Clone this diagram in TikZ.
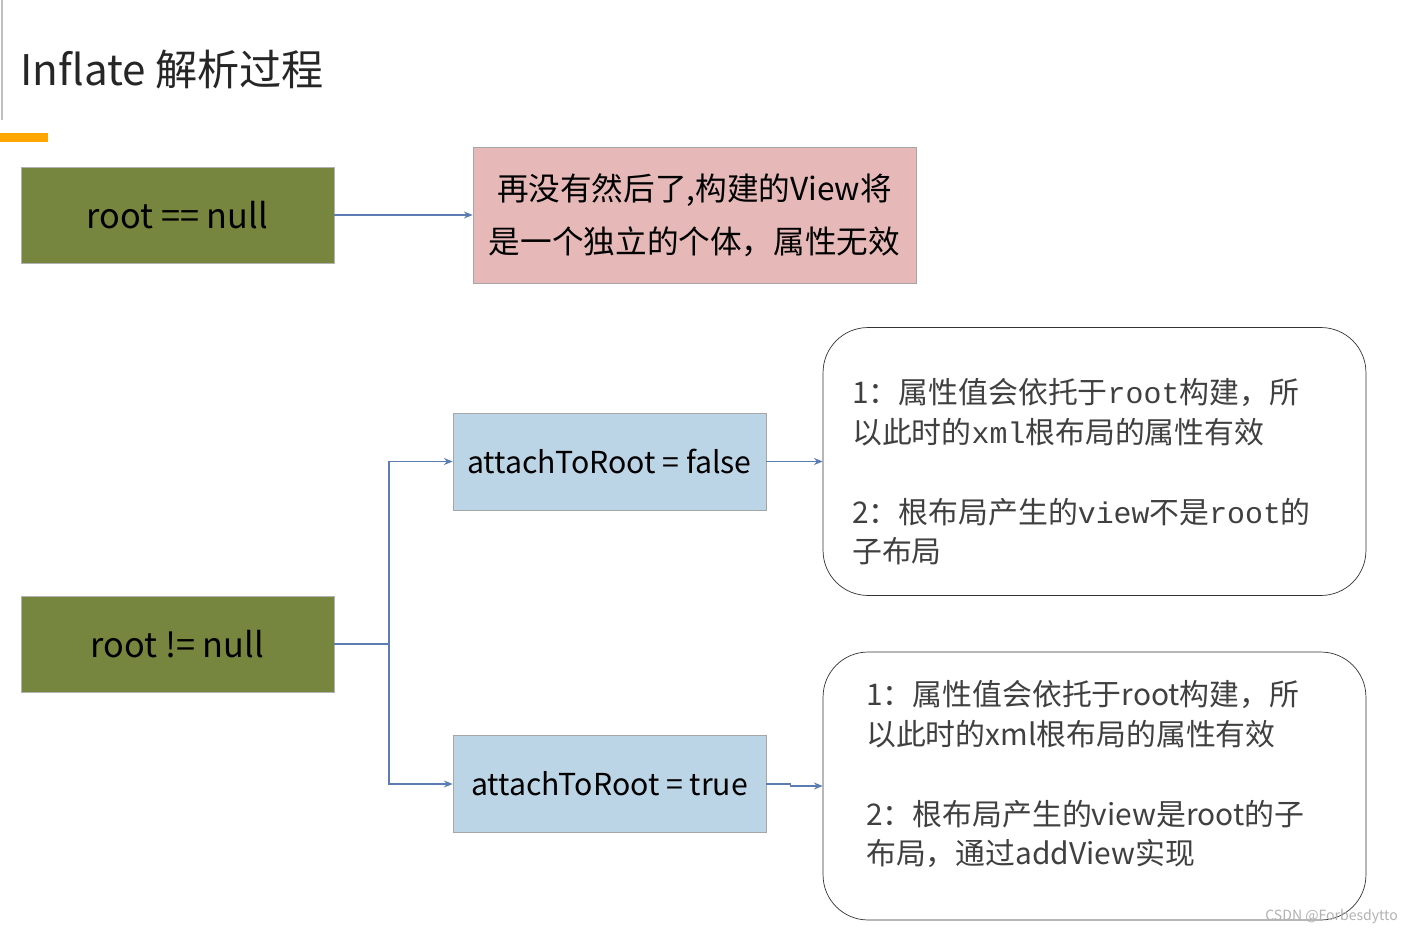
\documentclass[tikz,border=0pt]{standalone}
\usepackage{fontspec}
\usetikzlibrary{arrows.meta}
\setmainfont{Noto Sans CJK SC}
\newfontfamily\monof{Liberation Mono}
\definecolor{arr}{HTML}{5B7DB1}
\begin{document}
\begin{tikzpicture}[x=0.02cm,y=-0.02cm,
  gbox/.style={draw=black!30,minimum width=6.26cm,minimum height=1.92cm,font=\fontsize{19.5}{22}\selectfont,inner sep=0},
  bbox/.style={draw=gray!70,minimum width=6.26cm,minimum height=1.94cm,font=\fontsize{17.2}{20}\selectfont,inner sep=0},
  rbox/.style={draw=black!80,rounded corners=0.9cm,minimum width=10.86cm,minimum height=5.36cm},
  conn/.style={draw=arr,-{Stealth[length=5pt,width=4pt]},line width=0.6pt}]
\useasboundingbox (0,0) rectangle (1417,936);
\fill[white] (0,0) rectangle (1417,936);
\draw[gray!50,line width=1pt] (2,0) -- (2,120);
\fill[orange!70!yellow] (0,133) rectangle (48,142);
\node[anchor=west,font=\fontsize{24}{28}\selectfont,text=black!85] (title) at (14,70) {Inflate 解析过程};
\definecolor{olv}{HTML}{76863E}
\definecolor{pnk}{HTML}{E6B9B8}
\definecolor{lbl}{HTML}{BCD5E6}
\node[gbox,fill=olv] (r1) at (177.5,215) {root == null};
\node[draw=gray!70,fill=pnk,minimum width=8.86cm,minimum height=2.72cm,align=center,font=\fontsize{18}{30}\selectfont,inner sep=0] (p) at (694.5,215) {再没有然后了,构建的View将\\是一个独立的个体，属性无效};
\node[gbox,fill=olv] (r2) at (177.5,644) {root != null};
\node[bbox,fill=lbl] (b1) at (609.5,461.5) {attachToRoot = false};
\node[bbox,fill=lbl] (b2) at (609.5,784) {attachToRoot = true};
\node[rbox] (c1) at (1094.5,461.5) {};
\node[rbox] (c2) at (1094.5,786) {};
\node[anchor=north west,align=left,font=\fontsize{17}{22.7}\selectfont,text=black!75] at (846,372) {1：属性值会依托于{\monof root}构建，所\\以此时的{\monof xml}根布局的属性有效\\[0.8cm]2：根布局产生的{\monof view}不是{\monof root}的\\子布局};
\node[anchor=north west,align=left,font=\fontsize{17}{22.7}\selectfont,text=black!75] at (860,674) {1：属性值会依托于root构建，所\\以此时的xml根布局的属性有效\\[0.8cm]2：根布局产生的view是root的子\\布局，通过addView实现};
\coordinate (j) at (389,644);
\draw[conn] (r1) -- (p);
\draw[draw=arr,line width=0.6pt] (r2.east) -- (j);
\draw[conn] (j) |- (b1.west);
\draw[conn] (j) |- (b2.west);
\draw[conn] (b1) -- (c1);
\draw[conn] (b2.east) -- ++(24,0) -- ++(0,2) -- (c2.west |- 0,786);
\node[anchor=east,font=\fontsize{8}{9}\selectfont,text=gray!60] (wm) at (1404,917) {CSDN @Forbesdytto};
\end{tikzpicture}
\end{document}
